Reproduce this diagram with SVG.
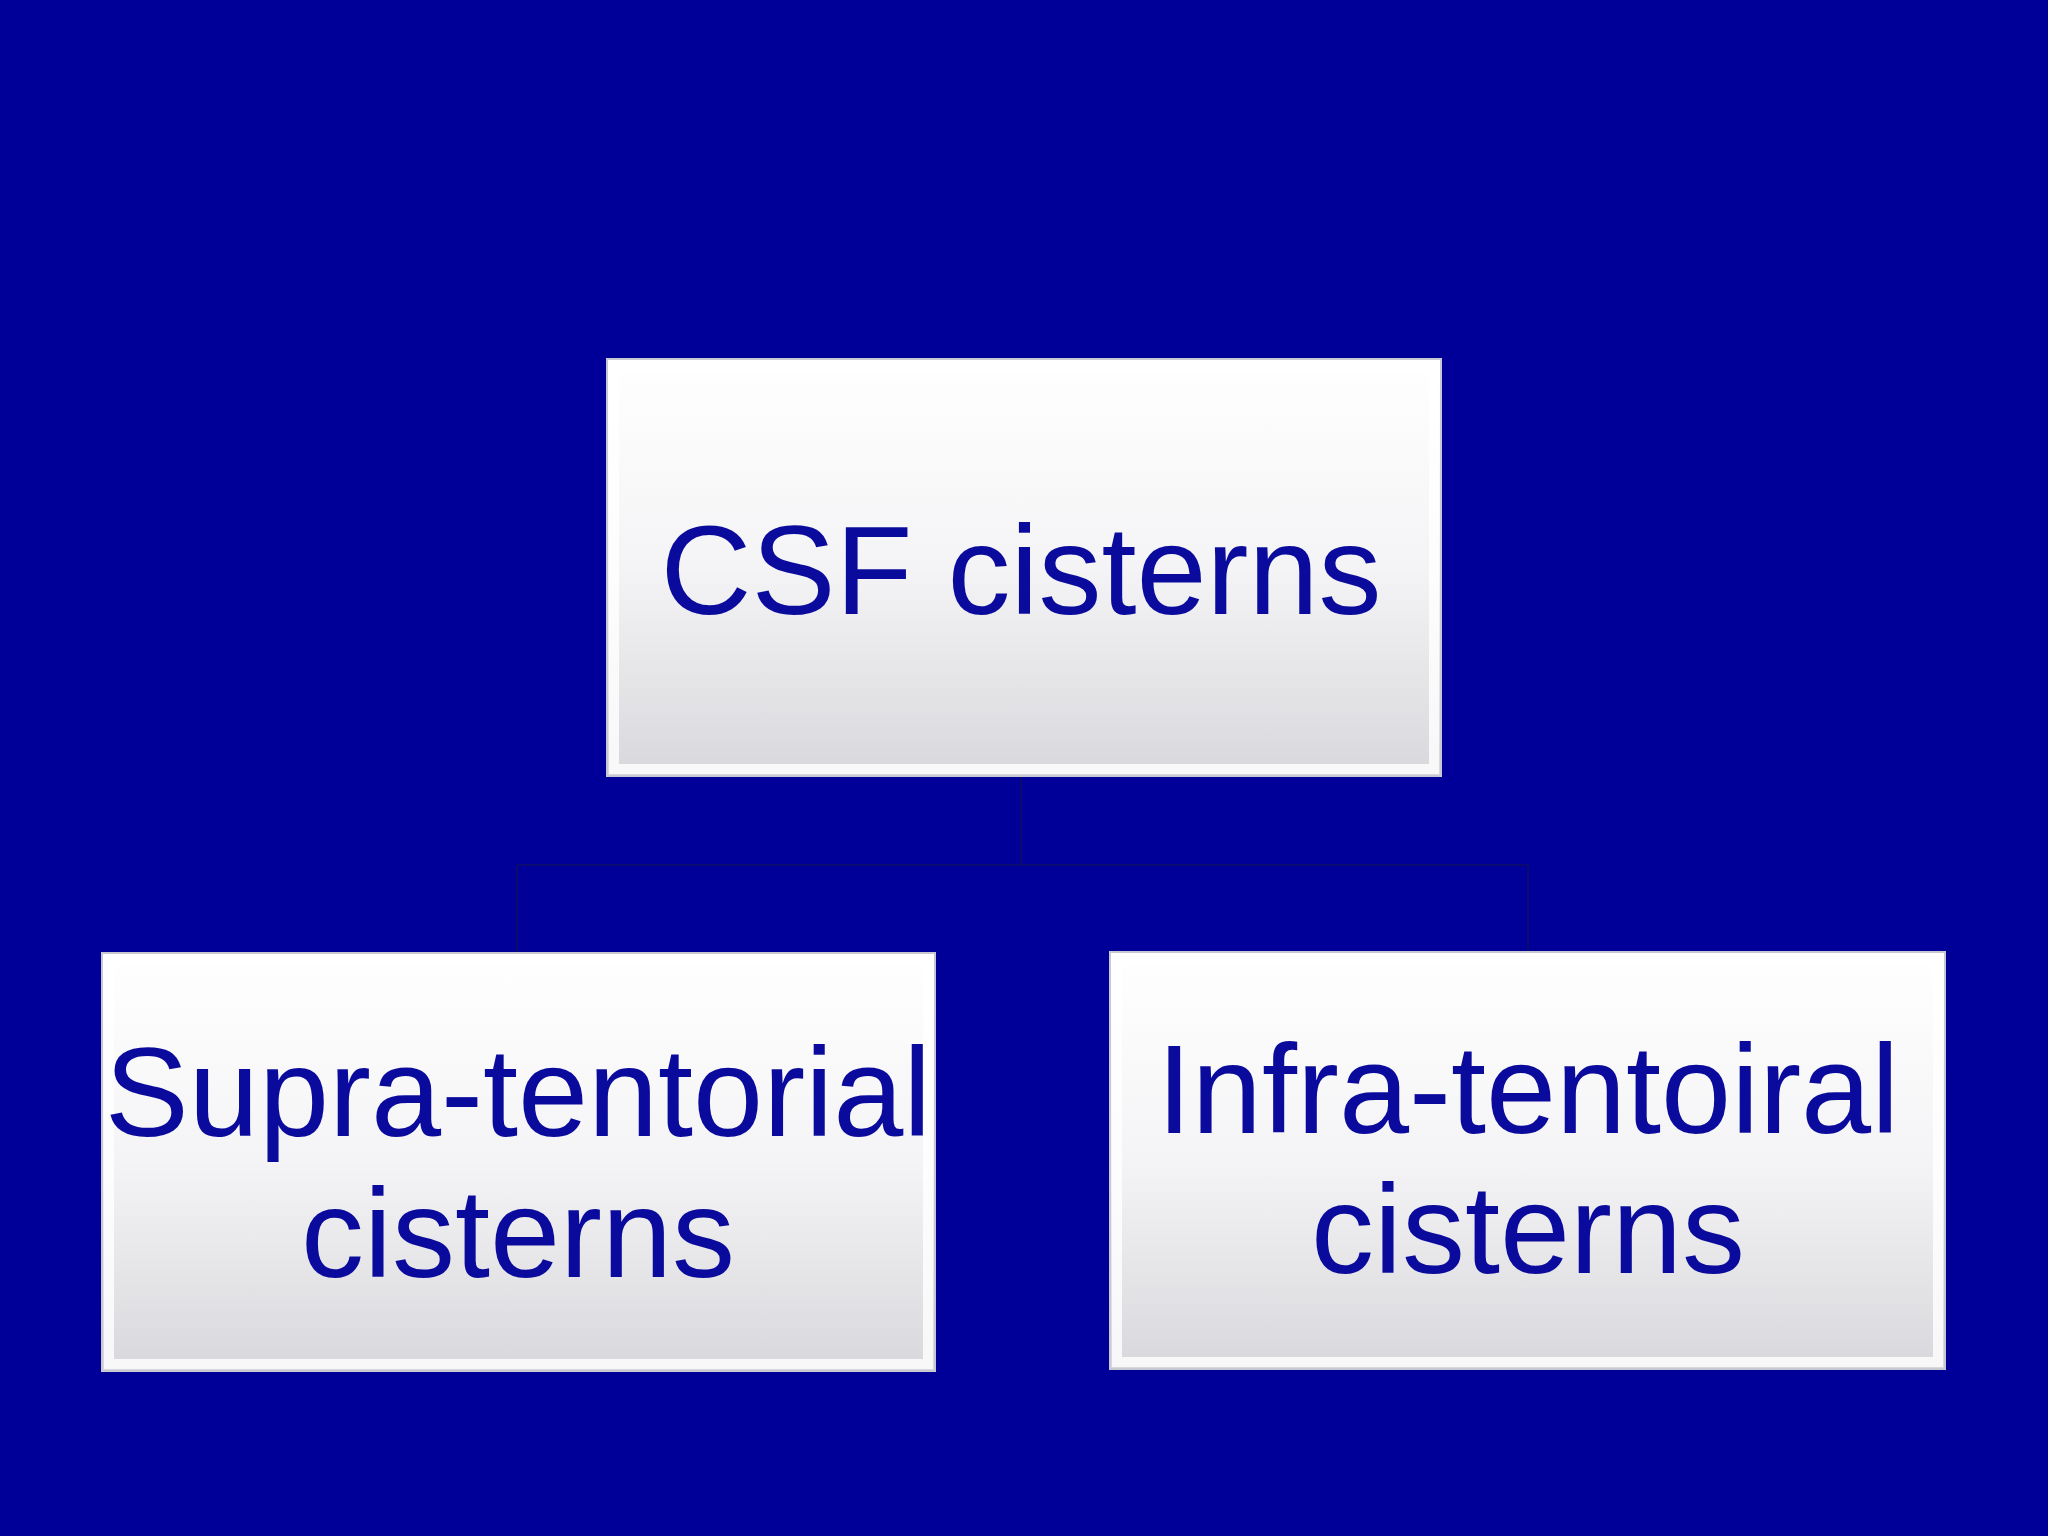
<svg xmlns="http://www.w3.org/2000/svg" width="2048" height="1536" viewBox="0 0 2048 1536">
<defs>
<linearGradient id="g" x1="0" y1="0" x2="0" y2="1">
<stop offset="0" stop-color="#ffffff"/><stop offset="0.5" stop-color="#f4f4f6"/><stop offset="1" stop-color="#d8d8dc"/>
</linearGradient>
<style>
.box{fill:url(#g);stroke:#c8c8d0;stroke-width:2}
.bev{fill:none;stroke:#ffffff;stroke-width:10;opacity:0.8}
.t{font-family:"Liberation Sans",Arial,sans-serif;font-size:126px;fill:#0a0a9c;text-anchor:middle}
.c{stroke:#0a0a70;stroke-width:2;fill:none}
</style>
</defs>
<rect width="2048" height="1536" fill="#000099"/>
<g id="connectors">
<path class="c" d="M1021 776V865M517 865H1528M517 865V953M1528 865V952"/>
</g>
<g id="root">
<rect class="box" x="607" y="359" width="834" height="417"/>
<rect class="bev" x="614" y="366" width="820" height="403"/>
<text class="t" x="1021" y="614">CSF cisterns</text>
</g>
<g id="supra">
<rect class="box" x="102" y="953" width="833" height="418"/>
<rect class="bev" x="109" y="960" width="819" height="404"/>
<text class="t" x="518" y="1136">Supra-tentorial</text>
<text class="t" x="518" y="1277">cisterns</text>
</g>
<g id="infra">
<rect class="box" x="1110" y="952" width="835" height="417"/>
<rect class="bev" x="1117" y="959" width="821" height="403"/>
<text class="t" x="1528" y="1133">Infra-tentoiral</text>
<text class="t" x="1528" y="1273">cisterns</text>
</g>
</svg>
